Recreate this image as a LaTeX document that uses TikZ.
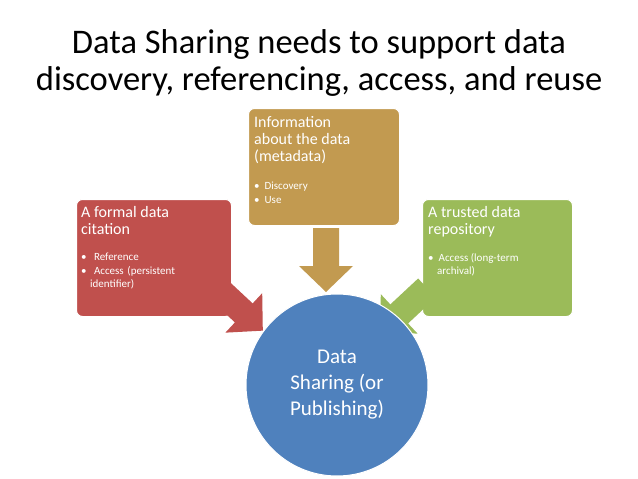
\documentclass[tikz,border=0pt]{standalone}
\usepackage{fontspec}
\setmainfont{Carlito}
\definecolor{cred}{HTML}{C0504D}
\definecolor{ctan}{HTML}{C29A50}
\definecolor{cgreen}{HTML}{9BBB59}
\definecolor{cblue}{HTML}{4F81BD}
\tikzset{
  box/.style={rounded corners=6pt, minimum width=#1, minimum height=117pt, draw=white, line width=1pt},
  boxtext/.style={anchor=north west, text=white, align=left, inner sep=0pt, font=\fontsize{16}{17}\selectfont},
  bul/.style={anchor=north west, text=white, align=left, inner sep=0pt, font=\fontsize{11}{13.5}\selectfont}
}
\newcommand{\blockarr}[4]{\fill[#4, shift={(#1,#2)}, rotate=#3] (0,-13)--(38,-13)--(38,-27)--(64,0)--(38,27)--(38,13)--(0,13)--cycle;}
\begin{document}
\begin{tikzpicture}[x=1pt,y=-1pt]
\useasboundingbox[fill=white] (0,0) rectangle (638,479);
\node (title) at (319,63) [align=center, font=\fontsize{34.5}{37}\selectfont] {Data Sharing needs to support data\\discovery, referencing, access, and reuse};
\node (red) [box=155pt, fill=cred, anchor=north west] at (76,199) {};
\node (tan) [box=151pt, fill=ctan, anchor=north west] at (248,108) {};
\node (green) [box=150pt, fill=cgreen, anchor=north west] at (422,199) {};
\node (rt) [boxtext] at (81,206) {A formal data\\citation};
\node (rb) [bul, text width=145pt] at (81,253) {\textbullet\ \ Reference\\\textbullet\ \ Access (persistent\\\hspace*{9pt}identifier)};
\node (tt) [boxtext] at (254,116) {Information\\about the data\\(metadata)};
\node (tb) [bul] at (254,182) {\textbullet\ \ Discovery\\\textbullet\ \ Use};
\node (gt) [boxtext] at (428,206) {A trusted data\\repository};
\node (gb) [bul] at (428,253) {\textbullet\ \ Access (long-term\\\hspace*{9pt}archival)};
\blockarr{326}{228}{-90}{ctan}
\blockarr{216}{287}{-43}{cred}
\blockarr{427}{288}{-137}{cgreen}
\node (circ) [circle, fill=cblue, draw=white, line width=1pt, minimum size=182pt, text=white, align=center, font=\fontsize{21}{26}\selectfont] at (337,385) {Data\\Sharing (or\\Publishing)};
\end{tikzpicture}
\end{document}
